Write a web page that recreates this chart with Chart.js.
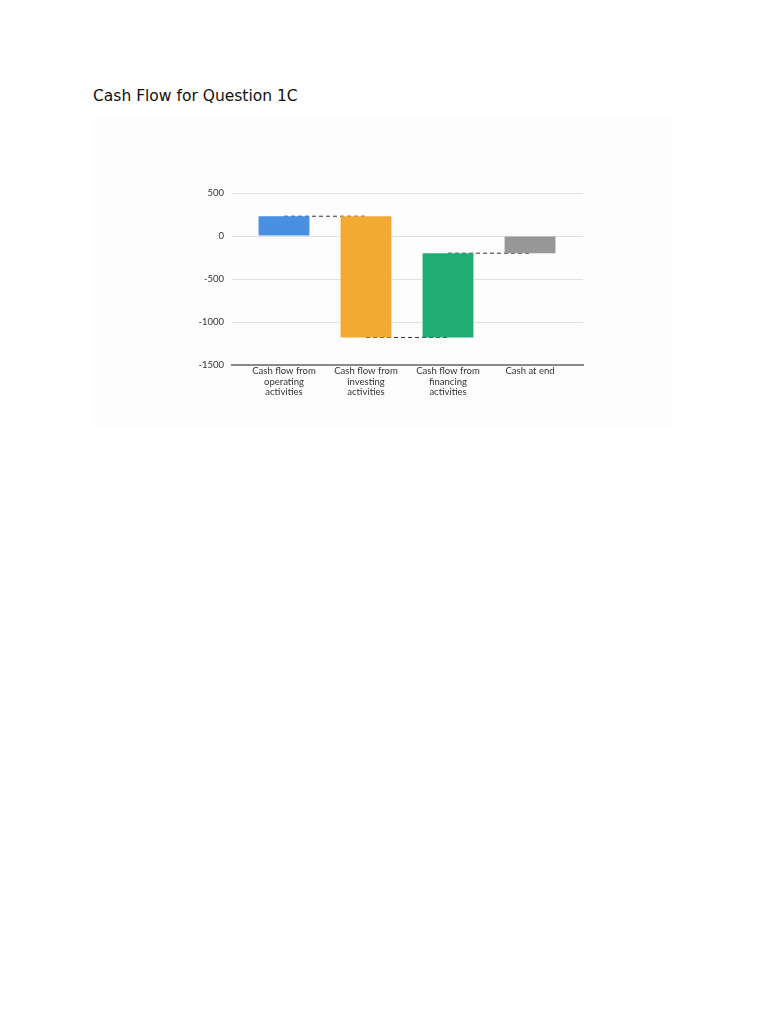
<!DOCTYPE html>
<html>
<head>
<meta charset="utf-8">
<script src="https://cdn.jsdelivr.net/npm/chart.js@4"></script>
<style>
  html, body { margin: 0; padding: 0; background: #fff; }
  #title { position: absolute; left: 93px; top: 87px; font-family: "DejaVu Sans", sans-serif; font-size: 15.5px; color: #111; }
  #panel { position: absolute; left: 94px; top: 116px; width: 578px; height: 310px; background: #fdfdfd; }
</style>
</head>
<body>
<div id="title">Cash Flow for Question 1C</div>
<div id="panel"><canvas id="cashChart" width="578" height="310"></canvas></div>
<script>
// categories + amounts
const categories = [
    ['Cash flow from', 'operating', 'activities'],
    ['Cash flow from', 'investing', 'activities'],
    ['Cash flow from', 'financing', 'activities'],
    ['Cash at end']
];
const changes = [230, -1410, 980];
const cashAtEnd = -200;
const barColors = ['#4a90e2', '#f2aa33', '#21ad72', '#979797'];
const yTicks = [500, 0, -500, -1000, -1500];

// running totals for the floating bars
let running = 0;
const floating = [];
changes.forEach((c, i) => {
    floating.push({x: i, y: [running, running + c]});
    running += c;
});
floating.push({x: 3, y: [0, cashAtEnd]});

// dashed connectors between bars
const connectors = [];
for (let i = 0; i < 3; i++) {
    const level = floating[i].y[1];
    connectors.push({
        type: 'line',
        data: [{x: i, y: level}, {x: i + 1, y: level}],
        borderColor: '#333',
        borderWidth: 1,
        borderDash: [4, 3],
        pointRadius: 0,
        order: 1
    });
}

const ctx = document.getElementById('cashChart').getContext('2d');
const myChart = new Chart(ctx, {
    type: 'bar',
    data: {
        datasets: [{
            data: floating,
            backgroundColor: barColors,
            borderWidth: 0,
            categoryPercentage: 1,
            barPercentage: 0.62,
            order: 0
        }].concat(connectors)
    },
    options: {
        responsive: false,
        animation: false,
        devicePixelRatio: 1,
        layout: {padding: {top: 77, right: 89, left: 0, bottom: 0}},
        plugins: {legend: {display: false}, tooltip: {enabled: false}},
        scales: {
            x: {
                type: 'linear',
                offset: false,
                min: -0.634,
                max: 3.646,
                afterBuildTicks: (scale) => {
                    scale.ticks = categories.map((c, i) => ({value: i}));
                },
                afterFit: (scale) => { scale.height = 61; },
                grid: {display: false, drawTicks: false},
                border: {display: true, color: '#8a8a8a', width: 2},
                ticks: {
                    autoSkip: false,
                    maxRotation: 0,
                    padding: 1,
                    color: '#333',
                    font: {family: 'Lato', size: 9.5, lineHeight: 1.1},
                    callback: (v) => categories[v] || ''
                }
            },
            y: {
                min: -1500,
                max: 500,
                afterBuildTicks: (scale) => {
                    scale.ticks = yTicks.map(v => ({value: v}));
                },
                afterFit: (scale) => { scale.width = 138; },
                grid: {color: '#e2e2e2', drawTicks: false, lineWidth: 1},
                border: {display: false},
                ticks: {
                    padding: 8,
                    color: '#333',
                    font: {family: 'Lato', size: 9.5},
                    callback: (v) => String(v)
                }
            }
        }
    }
});
</script>
</body>
</html>
